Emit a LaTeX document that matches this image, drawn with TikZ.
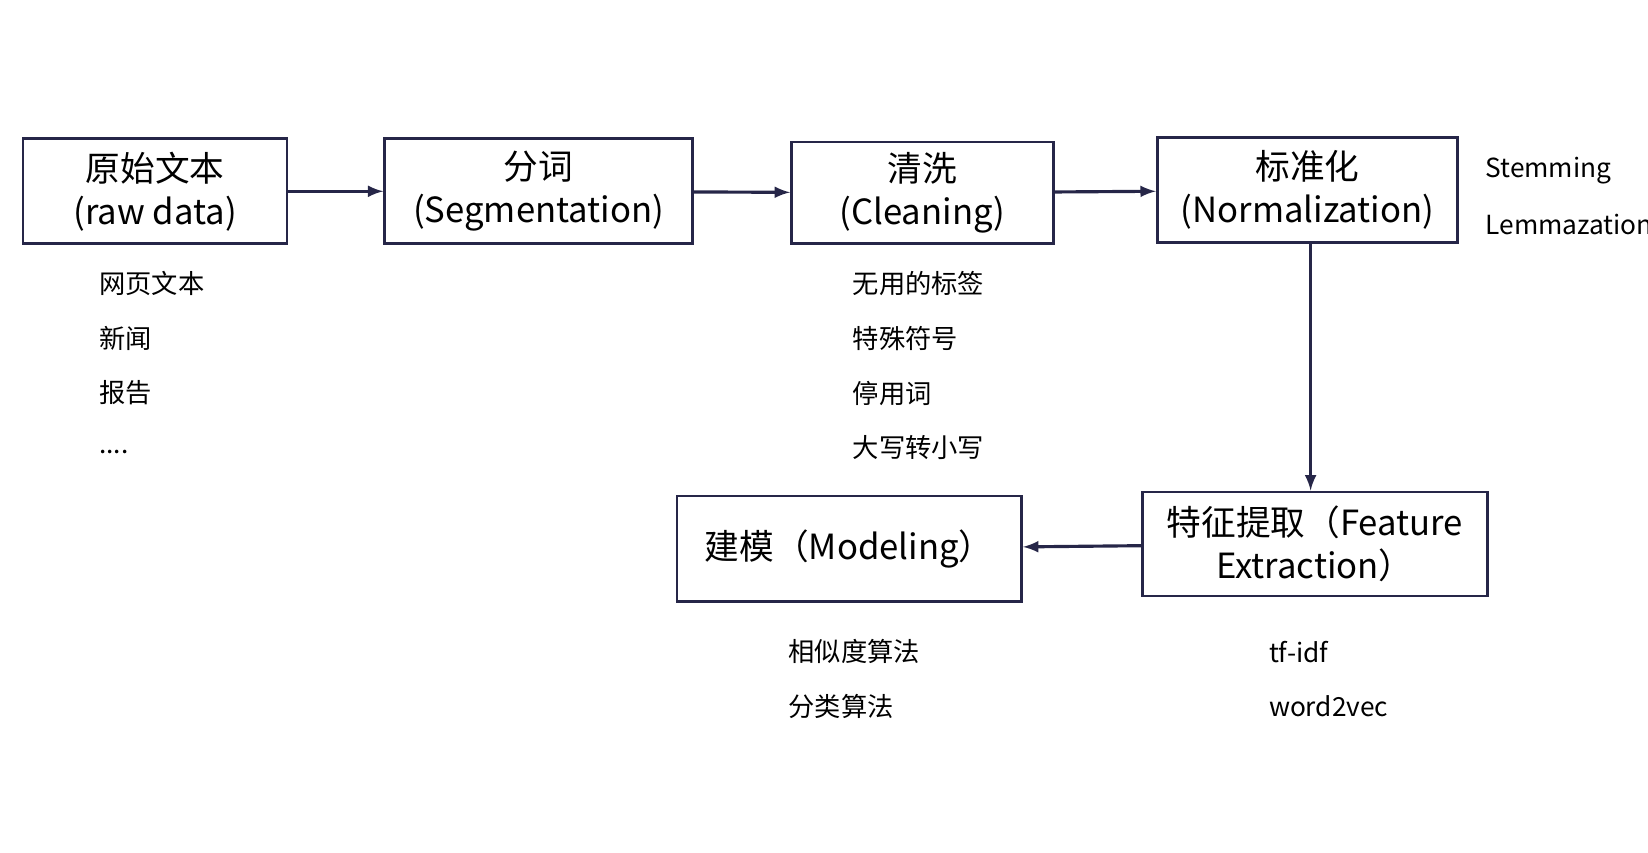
\documentclass[tikz,border=0pt]{standalone}
\usepackage{fontspec}
\setmainfont{Noto Sans CJK SC}
\usetikzlibrary{positioning}
\definecolor{navy}{RGB}{38,38,72}
\tikzset{
  stage/.style={draw=navy, line width=1.3pt, align=center, font=\fontsize{16.5}{20.5}\selectfont},
  flow/.style={->, >=latex, draw=navy, line width=1.5pt},
  note/.style={anchor=west, inner sep=0pt, font=\fontsize{12.5}{15}\selectfont}
}
\begin{document}
\begin{tikzpicture}[x=0.5pt,y=0.5pt,yscale=-1,xscale=1]
\useasboundingbox (0,0) rectangle (1568,811);
\clip (0,0) rectangle (1568,811);

% Stages
\node[stage, minimum width=251*0.5pt, minimum height=100*0.5pt] (raw) at (147.5,182) {原始文本\\(raw data)};
\node[stage, minimum width=293*0.5pt, minimum height=100*0.5pt] (seg) at (512.5,182) {分词\\(Segmentation)};
\node[stage, minimum width=249*0.5pt, minimum height=97*0.5pt] (clean) at (877.5,183.5) {清洗\\(Cleaning)};
\node[stage, minimum width=286*0.5pt, minimum height=100*0.5pt] (norm) at (1244,181) {标准化\\(Normalization)};
\node[stage, minimum width=328*0.5pt, minimum height=99*0.5pt] (feat) at (1251,517.5) {特征提取（Feature\\Extraction）};
\node[stage, minimum width=328*0.5pt, minimum height=100*0.5pt] (model) at (808,522) {建模（Modeling）};

% Connectors
\draw[flow] (raw) -- (seg);
\draw[flow] (seg) -- (clean);
\draw[flow] (clean) -- (norm);
\draw[flow] (norm.south -| feat.north) ++(-4,0) coordinate (n1) -- (n1 |- feat.north);
\draw[flow] (feat) -- (model);

% Notes
\node[note] (r1) at (94,270) {网页文本};
\node[note] (r2) at (94,322) {新闻};
\node[note] (r3) at (94,374) {报告};
\node[note] (r4) at (94,430) {....};

\node[note] (c1) at (811,270) {无用的标签};
\node[note] (c2) at (811,322) {特殊符号};
\node[note] (c3) at (811,374) {停用词};
\node[note] (c4) at (811,426) {大写转小写};

\node[note] (s1) at (1413,162) {Stemming};
\node[note] (s2) at (1413,214) {Lemmazation};

\node[note] (m1) at (750,620) {相似度算法};
\node[note] (m2) at (750,672) {分类算法};

\node[note] (f1) at (1207,620) {tf-idf};
\node[note] (f2) at (1207,672) {word2vec};
\end{tikzpicture}
\end{document}
